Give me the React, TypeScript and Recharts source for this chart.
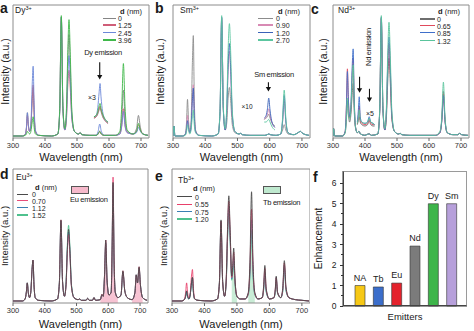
import React from 'react';
import {
  ComposedChart, Line, Area, Bar, Cell, LabelList, XAxis, YAxis,
  ReferenceArea, ReferenceLine, ReferenceDot,
} from 'recharts';

const FONT = '"Liberation Sans", Arial, Helvetica, sans-serif';
const X_TICKS = [300, 400, 500, 600, 700];

// ---------- panel a : Dy3+ ----------
const WL_A = [300, 330, 338, 342, 345, 348, 352, 356, 360, 363, 366, 370, 380, 420, 440, 446, 451, 456, 462, 467, 471, 475, 479, 484, 492, 505, 510, 515, 540, 560, 566, 571, 576, 585, 620, 634, 640, 645, 650, 657, 675, 686, 692, 698, 706, 722];
const A_GRAY = [1.5, 1.5, 2.5, 8, 19, 10, 5, 9, 28, 38, 18, 5, 2, 1.5, 3, 20, 91, 22, 6, 18, 55, 78, 55, 18, 5, 3, 4, 2.5, 2, 2, 3, 5, 3, 2, 2, 4, 15, 36, 15, 5, 3, 7, 17, 8, 3, 2];
const A_RED = [1.5, 1.5, 2.5, 7, 17, 9, 5, 9, 30, 40, 19, 5, 2, 1.5, 3, 20, 90, 22, 6, 14, 38, 51, 37, 14, 5, 3, 4, 2.5, 2, 2, 3, 5, 3, 2, 2, 3, 10, 22, 10, 4, 3, 5, 10, 6, 3, 2];
const A_BLUE = [1.5, 1.5, 2.5, 8, 19, 10, 5, 11, 40, 54, 25, 6, 2, 1.5, 3, 20, 91, 22, 6, 16, 45, 62, 44, 15, 5, 3, 4, 2.5, 2, 2, 5, 10.5, 5, 2, 2, 3, 9, 20, 9, 4, 3, 4, 8, 5, 3, 2];
const A_GREEN = [1.5, 1.5, 2, 3, 5, 4, 3, 5, 12, 16, 8, 3, 2, 1.5, 3, 22, 92, 24, 7, 22, 62, 89, 63, 20, 5, 3, 4, 2.5, 2, 2, 3, 5, 3, 2, 2, 5, 25, 56, 24, 6, 3, 5, 11, 6, 3, 2];
const A_NAMES = ['0', '1.25', '2.45', '3.96'];
const A_COLORS = ['#858585', '#cf5d78', '#6c88d8', '#3fb84a'];
const WL_A_INSET = [553, 560, 565, 569, 572, 575, 580, 588, 597];
const AI_GRAY = [15, 16, 18, 21, 23, 20, 16, 13, 11];
const AI_RED = [15, 16, 19, 22, 24, 21, 17, 13, 11];
const AI_BLUE = [16, 17, 23, 34, 41, 31, 20, 14, 12];
const AI_GREEN = [16, 17, 20, 24, 26, 22, 18, 14, 12];

// ---------- panel b : Sm3+ ----------
const WL_B = [300, 303, 306, 330, 338, 342, 345, 348, 352, 356, 360, 363, 366, 370, 380, 420, 440, 446, 451, 456, 462, 467, 471, 475, 479, 484, 492, 505, 510, 515, 540, 585, 592, 597, 602, 620, 634, 640, 645, 650, 657, 675, 688, 695, 702, 722];
const B_GRAY = [1.5, 9, 1.5, 1.5, 3, 12, 29, 14, 5, 12, 55, 77, 30, 6, 2, 1.5, 3, 20, 90, 22, 6, 12, 30, 38, 28, 10, 4, 3, 3.5, 2.5, 2, 2, 2.5, 3, 2.5, 2, 3, 6, 10, 6, 3, 2.5, 4, 5, 3.5, 2];
const B_RED = [1.5, 9, 1.5, 1.5, 2.5, 8, 17, 9, 4, 8, 30, 40, 18, 5, 2, 1.5, 3, 20, 90, 22, 6, 20, 50, 65, 48, 16, 5, 3, 3.5, 2.5, 2, 2, 2.5, 3, 2.5, 2, 3, 12, 28, 12, 4, 2.5, 4, 5, 3.5, 2];
const B_BLUE = [1.5, 9, 1.5, 1.5, 2.5, 7, 13, 8, 4, 8, 28, 37.5, 17, 5, 2, 1.5, 3, 20, 91, 22, 6, 22, 55, 71, 52, 17, 5, 3, 3.5, 2.5, 2, 2, 2.5, 3, 2.5, 2, 3, 13, 32, 13, 4, 2.5, 4, 5, 3.5, 2];
const B_GREEN = [1.5, 9, 1.5, 1.5, 2, 5, 10, 6, 3, 6, 16, 21, 10, 4, 2, 1.5, 3, 22, 92, 24, 7, 26, 66, 86, 64, 20, 5, 3, 3.5, 2.5, 2, 2, 2.5, 3, 2.5, 2, 3, 15, 36, 15, 4, 2.5, 4, 5, 3.5, 2];
const B_NAMES = ['0', '0.90', '1.20', '2.70'];
const B_COLORS = ['#8c8c8c', '#d88ab4', '#3a62b8', '#5cc6a0'];
const WL_B_INSET = [583, 589, 593, 597, 601, 606, 616];
const BI_GRAY = [14, 15, 16, 18, 15, 12, 9];
const BI_RED = [14, 16, 18, 22, 17, 12, 8];
const BI_BLUE = [15, 17, 22, 30, 21, 13, 8];
const BI_GREEN = [12, 12, 13, 14, 12, 9, 6];

// ---------- panel c : Nd3+ ----------
const WL_C = [300, 302, 305, 330, 338, 342, 345, 348, 352, 356, 360, 363, 366, 370, 376, 381, 386, 400, 410, 414, 420, 440, 446, 451, 456, 462, 467, 471, 475, 479, 484, 492, 505, 510, 515, 540, 620, 634, 640, 645, 650, 657, 675, 690, 696, 702, 722];
const C_GRAY = [1.5, 7, 1.5, 1.5, 4, 14, 28, 18, 12, 18, 33, 41, 22, 8, 4, 5, 3, 2, 3, 3, 2, 3, 20, 90, 22, 6, 16, 42, 60, 42, 14, 5, 3, 3.5, 2.5, 2, 2, 4, 14, 35, 14, 4, 2.5, 2.5, 3.5, 2.5, 2];
const C_RED = [1.5, 7, 1.5, 1.5, 5, 25, 52, 30, 15, 22, 48, 60, 30, 9, 4, 5, 3, 2, 3, 3, 2, 3, 20, 90, 22, 6, 20, 52, 71, 50, 16, 5, 3, 3.5, 2.5, 2, 2, 4, 13, 33, 13, 4, 2.5, 2.5, 3.5, 2.5, 2];
const C_BLUE = [1.5, 7, 1.5, 1.5, 5, 24, 50, 29, 16, 25, 54, 67, 33, 9, 4, 5, 3, 2, 3, 3, 2, 3, 20, 91, 22, 6, 21, 55, 76, 54, 17, 5, 3, 3.5, 2.5, 2, 2, 4, 13, 32, 13, 4, 2.5, 2.5, 3.5, 2.5, 2];
const C_GREEN = [1.5, 7, 1.5, 1.5, 4, 15, 30, 19, 14, 22, 45, 55, 28, 9, 4, 5, 3, 2, 3, 3, 2, 3, 22, 92, 24, 7, 24, 62, 87, 62, 20, 5, 3, 3.5, 2.5, 2, 2, 5, 16, 42, 16, 4, 2.5, 2.5, 3.5, 2.5, 2];
const C_NAMES = ['0', '0.65', '0.85', '1.32'];
const C_COLORS = ['#6e6e6e', '#e04a5c', '#3f6fca', '#5ac49c'];
const WL_C_INSET = [376, 379, 382, 385, 390, 400, 408, 413, 418, 425, 430];
const CI_GRAY = [10, 13, 16, 12, 10, 9, 10, 13, 10, 9, 9];
const CI_RED = [11, 16, 24, 14, 11, 10, 11, 14, 11, 10, 10];
const CI_BLUE = [12, 20, 31, 16, 12, 11, 12, 16, 12, 11, 10];
const CI_GREEN = [11, 15, 21, 14, 12, 11, 12, 15, 12, 11, 10];

// ---------- panel d : Eu3+ ----------
const WL_D = [300, 330, 338, 342, 345, 348, 352, 356, 360, 363, 366, 370, 380, 420, 440, 446, 451, 456, 462, 467, 471, 475, 479, 484, 492, 505, 510, 515, 530, 535, 540, 550, 555, 560, 575, 580, 584, 588, 592, 596, 602, 609, 612, 615, 618, 622, 630, 640, 646, 652, 660, 675, 684, 688, 692, 697, 701, 708, 722];
const D_GRAY = [1.5, 1.5, 3, 8, 15, 8, 4, 8, 25, 32, 14, 4, 2, 1.5, 3, 15, 62, 16, 5, 14, 40, 55, 40, 13, 4, 2.5, 3, 2, 2, 3.5, 2, 2, 4, 2, 2.5, 6.5, 5, 20, 47, 18, 6, 8, 40, 90, 35, 8, 4, 6, 24, 9, 4, 2.5, 8, 21, 15, 27, 14, 4, 2];
const D_RED = [1.5, 1.5, 3, 8, 15, 8, 4, 8, 25, 32, 14, 4, 2, 1.5, 3, 15, 62, 16, 5, 13, 37, 51, 37, 12, 4, 2.5, 3, 2, 2, 3.5, 2, 2, 4, 2, 2.5, 6.5, 5, 20, 47, 18, 6, 8, 42, 94, 37, 8, 4, 6, 24, 9, 4, 2.5, 8, 21, 15, 27, 14, 4, 2];
const D_BLUE = [1.5, 1.5, 3, 8, 15, 8, 4, 8, 25, 32, 14, 4, 2, 1.5, 3, 15, 61, 16, 5, 14, 39, 53, 39, 13, 4, 2.5, 3, 2, 2, 3.5, 2, 2, 4, 2, 2.5, 6, 5, 19, 45, 17, 6, 8, 39, 89, 34, 8, 4, 6, 23, 9, 4, 2.5, 8, 21, 15, 26, 14, 4, 2];
const D_GREEN = [1.5, 1.5, 3, 8, 15, 8, 4, 8, 25, 32, 14, 4, 2, 1.5, 3, 15, 61, 16, 5, 15, 43, 58, 43, 14, 4, 2.5, 3, 2, 2, 3.5, 2, 2, 4, 2, 2.5, 6, 5, 19, 44, 17, 6, 8, 39, 88, 34, 8, 4, 6, 23, 9, 4, 2.5, 8, 21, 15, 26, 14, 4, 2];
const D_NAMES = ['0', '0.70', '1.12', '1.52'];
const D_COLORS = ['#4a4a4a', '#e84e7a', '#3a7fb2', '#4fc18e'];

// ---------- panel e : Tb3+ ----------
const WL_E = [300, 330, 338, 342, 345, 348, 352, 356, 360, 363, 366, 370, 380, 420, 440, 446, 451, 456, 462, 467, 471, 475, 479, 484, 487, 490, 494, 500, 510, 525, 535, 540, 545, 549, 555, 565, 578, 582, 586, 590, 600, 614, 618, 621, 625, 635, 641, 646, 651, 660, 680, 700, 722];
const E_GRAY = [1.5, 1.5, 2.5, 5, 9, 5, 3, 6, 15, 19, 8, 3, 2, 1.5, 3, 15, 62, 16, 5, 18, 55, 80, 55, 20, 28, 41, 18, 5, 3, 3, 8, 30, 83, 35, 8, 3, 4, 12, 28, 11, 3, 4, 10, 20, 8, 4, 11, 31.6, 12, 4, 2.5, 2, 1.5];
const E_RED = [1.5, 1.5, 2.5, 8, 15, 8, 3.5, 7, 20, 25, 11, 3, 2, 1.5, 3, 15, 61, 16, 5, 17, 52, 76, 52, 19, 26, 38, 17, 5, 3, 3, 7, 26, 70, 30, 7, 3, 4, 11, 26, 10, 3, 4, 10, 19, 8, 4, 10, 30, 11, 4, 2.5, 2, 1.5];
const E_BLUE = [1.5, 1.5, 2.5, 5, 9, 5, 3, 6, 15, 19, 8, 3, 2, 1.5, 3, 15, 61, 16, 5, 16, 49, 72, 49, 18, 24, 34, 16, 5, 3, 3, 7, 23, 62, 27, 7, 3, 4, 10, 22, 9, 3, 4, 9, 19, 8, 4, 9, 28, 10, 4, 2.5, 2, 1.5];
const E_GREEN = [1.5, 1.5, 2.5, 5, 9, 5, 3, 6, 15, 19, 8, 3, 2, 1.5, 3, 15, 60, 16, 5, 15, 46, 67, 46, 17, 22, 30, 14, 5, 3, 3, 6, 20, 54, 23, 6, 3, 4, 9, 19, 8, 3, 4, 8, 17, 7, 4, 8, 26, 9, 4, 2.5, 2, 1.5];
const E_NAMES = ['0', '0.55', '0.75', '1.20'];
const E_COLORS = ['#4a4a4a', '#e8406a', '#3a7fb2', '#4fc18e'];

// ---------- panel f : enhancement ----------
const F_NAMES = ['NA', 'Tb', 'Eu', 'Nd', 'Dy', 'Sm'];
const F_VALUES = [1.0, 0.93, 1.12, 2.93, 5.0, 5.0];
const F_COLORS = ['#f6c816', '#3b6ecb', '#e4222c', '#7b7b7b', '#3db54a', '#b7a0db'];
const F_TICK_LABELS = ['0', '1', '2', '3', '4', '5', '6'];
const F_MINOR = [0.5, 1.5, 2.5, 3.5, 4.5, 5.5];
const F_Y_MAX = 6.6;

const mk = (wl: number[], ys: number[]) => wl.map((x, i) => ({ x, y: ys[i] }));

type Arrow = { x: number; y1: number; y2: number };
type Fill = { wl: number[]; values: number[]; color: string };

function T({ x, y, size = 8, bold = false, anchor = 'middle', rotate = 0, color = '#1a1a1a', spacing = 0, children }: any) {
  const tx = anchor === 'middle' ? '-50%' : anchor === 'end' ? '-100%' : '0';
  return (
    <div style={{
      position: 'absolute', left: x, top: y,
      transform: `translate(${tx}, -50%)${rotate ? ` rotate(${rotate}deg)` : ''}`,
      fontSize: size, fontWeight: bold ? 700 : 400, lineHeight: 1, whiteSpace: 'nowrap',
      color, letterSpacing: spacing, fontFamily: FONT, zIndex: 5,
    }}>{children}</div>
  );
}

function Legend({ lineX, lineW, textX, rows, titleX, titleY, names, colors }: any) {
  return (
    <>
      <T x={titleX} y={titleY} anchor="start" size={7.5}><b>d</b> (nm)</T>
      {rows.map((r: number, i: number) => (
        <React.Fragment key={i}>
          <div style={{ position: 'absolute', left: lineX, top: r - 0.6, width: lineW, height: 1.2, background: colors[i] }} />
          <T x={textX} y={r} anchor="start" size={7}>{names[i]}</T>
        </React.Fragment>
      ))}
    </>
  );
}

function Spectrum(p: {
  left: number; top: number; width: number; height: number;
  margin: { top: number; right: number; bottom: number; left: number };
  yAxisWidth: number; yLabelOffset: number; xAxisHeight: number; xLabelOffset: number;
  yLabelSize: number;
  wl: number[]; series: number[][]; colors: string[]; order: number[];
  insetWl?: number[]; inset?: number[][];
  fills?: Fill[]; arrows?: Arrow[];
}) {
  return (
    <div style={{ position: 'absolute', left: p.left, top: p.top, width: p.width, height: p.height }}>
      <ComposedChart width={p.width} height={p.height} margin={p.margin}>
        <XAxis
          dataKey="x" type="number" domain={[300, 725]} ticks={X_TICKS} allowDataOverflow interval={0}
          axisLine={false} tickLine={{ stroke: '#666' }} tickSize={3} tickMargin={2}
          tick={{ fontSize: 7.5, fill: '#333', fontFamily: FONT }} height={p.xAxisHeight}
          label={{ value: 'Wavelength (nm)', position: 'insideBottom', offset: p.xLabelOffset, style: { fontSize: 11, fill: '#1a1a1a', fontFamily: FONT } }}
        />
        <YAxis
          type="number" domain={[0, 100]} allowDataOverflow width={p.yAxisWidth}
          tick={false} tickLine={false} axisLine={false}
          label={{ value: 'Intensity (a.u.)', angle: -90, position: 'insideLeft', offset: p.yLabelOffset, style: { textAnchor: 'middle', fontSize: p.yLabelSize, fill: '#1a1a1a', fontFamily: FONT } }}
        />
        {(p.fills || []).map((f, i) => (
          <Area key={'f' + i} data={mk(f.wl, f.values)} dataKey="y" type="monotone" stroke="none" fill={f.color} fillOpacity={0.85} isAnimationActive={false} />
        ))}
        {p.order.map((k) => (
          <Line key={'s' + k} data={mk(p.wl, p.series[k])} dataKey="y" type="monotone" stroke={p.colors[k]} strokeWidth={0.9} dot={false} isAnimationActive={false} />
        ))}
        {p.insetWl && p.inset && p.order.map((k) => (
          <Line key={'i' + k} data={mk(p.insetWl as number[], (p.inset as number[][])[k])} dataKey="y" type="monotone" stroke={p.colors[k]} strokeWidth={0.9} dot={false} isAnimationActive={false} />
        ))}
        {(p.arrows || []).map((a, i) => (
          <ReferenceLine key={'al' + i} segment={[{ x: a.x, y: a.y1 }, { x: a.x, y: a.y2 + 2 }]} stroke="#111" strokeWidth={1.1} />
        ))}
        {(p.arrows || []).map((a, i) => (
          <ReferenceDot key={'ad' + i} x={a.x} y={a.y2} r={1}
            shape={(s: any) => <path d={`M${s.cx - 2.6},${s.cy - 4.5} L${s.cx + 2.6},${s.cy - 4.5} L${s.cx},${s.cy} Z`} fill="#111" />} />
        ))}
        <ReferenceArea y1={0} y2={100} fill="none" stroke="#8c8c8c" strokeWidth={1} />
      </ComposedChart>
    </div>
  );
}

// f panel geometry (page coords): chart at (310,165), plot top 171, plot height 135, plot left 343
const F_X = 310;
const F_Y = 165;
const F_TOP = 6;
const F_H = 135;
const F_LEFT = 33;
const fY = (v: number) => F_Y + F_TOP + F_H * (1 - v / F_Y_MAX);

function Enhancement() {
  const data = F_NAMES.map((name, i) => ({ name, value: F_VALUES[i] }));
  return (
    <div style={{ position: 'absolute', left: F_X, top: F_Y, width: 164, height: 166 }}>
      <ComposedChart width={164} height={166} data={data} margin={{ top: F_TOP, right: 7, bottom: 0, left: 0 }}>
        <XAxis dataKey="name" type="category" tick={false} tickLine={false} axisLine={{ stroke: '#333' }} height={25} padding={{ left: 8, right: 6 }}
          label={{ value: 'Emitters', position: 'insideBottom', offset: 11, style: { fontSize: 9.5, fill: '#1a1a1a', fontFamily: FONT } }} />
        <YAxis type="number" domain={[0, F_Y_MAX]} width={F_LEFT} tick={false} tickLine={false}
          axisLine={{ stroke: '#333' }}
          label={{ value: 'Enhancement', angle: -90, position: 'insideLeft', offset: 8, style: { textAnchor: 'middle', fontSize: 10, fill: '#1a1a1a', fontFamily: FONT } }} />
        <Bar dataKey="value" barSize={10} stroke="#333" strokeWidth={0.6} isAnimationActive={false}>
          {data.map((d, i) => <Cell key={d.name} fill={F_COLORS[i]} />)}
          <LabelList dataKey="name" position="top" offset={5} style={{ fontSize: 9, fill: '#222', fontFamily: FONT }} />
        </Bar>
      </ComposedChart>
      <div style={{ position: 'absolute', left: F_LEFT, top: F_TOP, width: 124, height: F_H, borderTop: '1px solid #9a9a9a', borderRight: '1px solid #9a9a9a', borderLeft: '1px solid #444', borderBottom: '1px solid #444', boxSizing: 'border-box', pointerEvents: 'none' }} />
    </div>
  );
}

function EnhancementTicks() {
  return (
    <>
      {F_TICK_LABELS.map((lab, i) => (
        <React.Fragment key={'t' + lab}>
          <div style={{ position: 'absolute', left: F_X + F_LEFT - 3, top: fY(i) - 0.5, width: 3, height: 1, background: '#333', zIndex: 5 }} />
          <T x={F_X + F_LEFT - 9} y={fY(i)} size={8.5} color="#222">{lab}</T>
        </React.Fragment>
      ))}
      {F_MINOR.map((v) => (
        <div key={'m' + v} style={{ position: 'absolute', left: F_X + F_LEFT - 2, top: fY(v) - 0.5, width: 2, height: 1, background: '#333', zIndex: 5 }} />
      ))}
    </>
  );
}

const sup = (s: string) => <span style={{ fontSize: 5.5, position: 'relative', top: -3 }}>{s}</span>;

export default function App() {
  return (
    <div style={{ position: 'absolute', left: 0, top: 0, width: 474, height: 331, background: '#fff', overflow: 'hidden', fontFamily: FONT }}>
      {/* a */}
      <Spectrum left={0} top={0} width={155} height={165} margin={{ top: 5, right: 6, bottom: 0, left: 0 }}
        yAxisWidth={13} yLabelOffset={5} xAxisHeight={27} xLabelOffset={4} yLabelSize={10.5}
        wl={WL_A} series={[A_GRAY, A_RED, A_BLUE, A_GREEN]} colors={A_COLORS} order={[0, 1, 2, 3]}
        insetWl={WL_A_INSET} inset={[AI_GRAY, AI_RED, AI_BLUE, AI_GREEN]}
        arrows={[{ x: 571, y1: 57, y2: 44 }]} />
      {/* b */}
      <Spectrum left={155} top={0} width={160} height={165} margin={{ top: 5, right: 5, bottom: 0, left: 0 }}
        yAxisWidth={18} yLabelOffset={5} xAxisHeight={27} xLabelOffset={4} yLabelSize={10.5}
        wl={WL_B} series={[B_GRAY, B_RED, B_BLUE, B_GREEN]} colors={B_COLORS} order={[0, 1, 2, 3]}
        insetWl={WL_B_INSET} inset={[BI_GRAY, BI_RED, BI_BLUE, BI_GREEN]}
        arrows={[{ x: 596, y1: 42, y2: 35 }]} />
      {/* c */}
      <Spectrum left={310} top={0} width={164} height={165} margin={{ top: 5, right: 5, bottom: 0, left: 0 }}
        yAxisWidth={23} yLabelOffset={13} xAxisHeight={27} xLabelOffset={4} yLabelSize={10.5}
        wl={WL_C} series={[C_GRAY, C_RED, C_BLUE, C_GREEN]} colors={C_COLORS} order={[0, 1, 2, 3]}
        insetWl={WL_C_INSET} inset={[CI_GRAY, CI_RED, CI_BLUE, CI_GREEN]}
        arrows={[{ x: 383, y1: 46, y2: 34 }, { x: 414, y1: 37, y2: 27 }]} />
      {/* d */}
      <Spectrum left={0} top={165} width={155} height={166} margin={{ top: 4, right: 7, bottom: 0, left: 0 }}
        yAxisWidth={13} yLabelOffset={5} xAxisHeight={28} xLabelOffset={3} yLabelSize={9.5}
        wl={WL_D} series={[D_GRAY, D_RED, D_BLUE, D_GREEN]} colors={D_COLORS} order={[3, 2, 1, 0]}
        fills={[
          { wl: WL_D.slice(34, 47), values: D_RED.slice(34, 47), color: '#f6b9cb' },
          { wl: WL_D.slice(51, 58), values: D_RED.slice(51, 58), color: '#f6b9cb' },
        ]} />
      {/* e */}
      <Spectrum left={155} top={165} width={155} height={166} margin={{ top: 4, right: 0, bottom: 0, left: 0 }}
        yAxisWidth={17} yLabelOffset={9} xAxisHeight={28} xLabelOffset={3} yLabelSize={9.5}
        wl={WL_E} series={[E_GRAY, E_RED, E_BLUE, E_GREEN]} colors={E_COLORS} order={[3, 2, 1, 0]}
        fills={[
          { wl: WL_E.slice(23, 28), values: E_GREEN.slice(23, 28), color: '#bfe9cf' },
          { wl: WL_E.slice(30, 35), values: E_GREEN.slice(30, 35), color: '#bfe9cf' },
        ]} />
      {/* f */}
      <Enhancement />
      <EnhancementTicks />

      {/* panel letters */}
      <T x={0} y={8} anchor="start" size={14} bold>a</T>
      <T x={155} y={8} anchor="start" size={14} bold>b</T>
      <T x={311} y={8.5} anchor="start" size={14} bold>c</T>
      <T x={0} y={174} anchor="start" size={14} bold>d</T>
      <T x={155} y={176} anchor="start" size={14} bold>e</T>
      <T x={313} y={177} anchor="start" size={14} bold>f</T>

      {/* element labels */}
      <T x={15} y={10} anchor="start" size={8.5}>Dy{sup('3+')}</T>
      <T x={180} y={10} anchor="start" size={8.5}>Sm{sup('3+')}</T>
      <T x={338} y={10} anchor="start" size={8.5}>Nd{sup('3+')}</T>
      <T x={16} y={177} anchor="start" size={8.5}>Eu{sup('3+')}</T>
      <T x={178} y={180} anchor="start" size={8.5}>Tb{sup('3+')}</T>

      {/* legends */}
      <Legend lineX={103} lineW={13} textX={118} rows={[18.3, 25, 32.5, 40]} titleX={120} titleY={11.5} names={A_NAMES} colors={A_COLORS} />
      <Legend lineX={258} lineW={15} textX={276} rows={[18.3, 25, 32.5, 40]} titleX={278} titleY={11.5} names={B_NAMES} colors={B_COLORS} />
      <Legend lineX={420} lineW={15} textX={437} rows={[19, 25.5, 32.7, 40.5]} titleX={438} titleY={12} names={C_NAMES} colors={C_COLORS} />
      <Legend lineX={17} lineW={11} textX={32} rows={[194.3, 200.7, 207.7, 215]} titleX={35} titleY={187.5} names={D_NAMES} colors={D_COLORS} />
      <Legend lineX={177} lineW={15} textX={195} rows={[196.7, 204.3, 211.7, 219]} titleX={193} titleY={189} names={E_NAMES} colors={E_COLORS} />

      {/* annotations */}
      <T x={103} y={53} size={7.5} spacing={-0.3}>Dy emission</T>
      <T x={92} y={96.5} size={7}>×3</T>
      <T x={274} y={75} size={7.5} spacing={-0.3}>Sm emission</T>
      <T x={247} y={107} size={6.5}>×10</T>
      <T x={369} y={47} size={7.5} spacing={-0.3} rotate={-90}>Nd emission</T>
      <T x={370} y={112.5} size={7}>×5</T>

      <div style={{ position: 'absolute', left: 71, top: 186, width: 16, height: 6, background: '#f6b9cb', border: '0.8px solid #555' }} />
      <T x={70} y={199.5} anchor="start" size={7.5} spacing={-0.3}>Eu emission</T>
      <div style={{ position: 'absolute', left: 263, top: 186, width: 16, height: 6, background: '#bfe9cf', border: '0.8px solid #555' }} />
      <T x={263} y={203} anchor="start" size={7.5} spacing={-0.3}>Tb emission</T>
    </div>
  );
}
